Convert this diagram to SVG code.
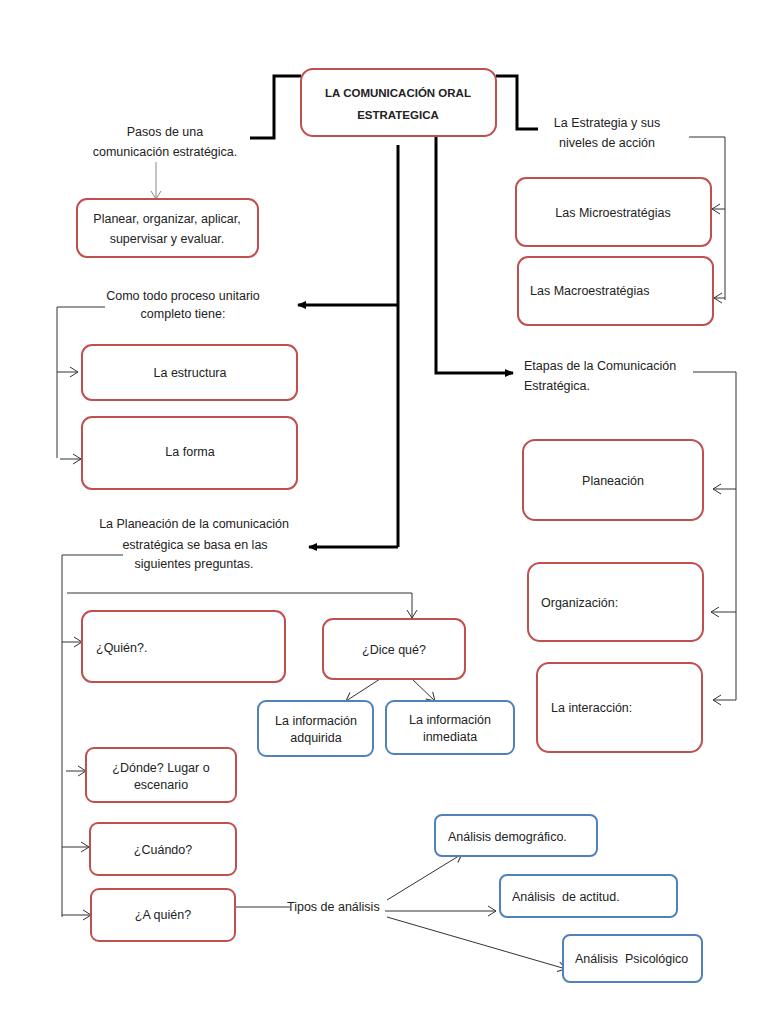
<svg xmlns="http://www.w3.org/2000/svg" width="768" height="1024" viewBox="0 0 768 1024">
<style>
text{font-family:"Liberation Sans",Arial,sans-serif;font-size:12.5px;fill:#222}
.c{text-anchor:middle}
.t{font-weight:bold;font-size:11.5px}
.r{fill:#fff;stroke:#c0504d;stroke-width:2}
.b{fill:#fff;stroke:#4f81bd;stroke-width:2}
.k{fill:none;stroke:#000;stroke-width:3}
.th{fill:none;stroke:#333;stroke-width:1}
.g{fill:none;stroke:#888;stroke-width:1}
</style>
<defs>
<marker id="open" markerWidth="12" markerHeight="12" refX="10" refY="6" orient="auto" markerUnits="userSpaceOnUse">
<path d="M2,1 L10,6 L2,11" fill="none" stroke="#333" stroke-width="1"/>
</marker>
<marker id="openg" markerWidth="12" markerHeight="12" refX="10" refY="6" orient="auto" markerUnits="userSpaceOnUse">
<path d="M2,1 L10,6 L2,11" fill="none" stroke="#888" stroke-width="1"/>
</marker>
<marker id="solid" markerWidth="12" markerHeight="12" refX="9" refY="6" orient="auto" markerUnits="userSpaceOnUse">
<path d="M1,2 L10,6 L1,10 Z" fill="#000"/>
</marker>
</defs>
<rect width="768" height="1024" fill="#fff"/>
<g id="connectors">
<polyline class="k" points="301,76 274,76 274,138 250,138"/>
<polyline class="k" points="496,76 517,76 517,129 538,129"/>
<line class="k" x1="398" y1="145" x2="398" y2="547"/>
<line class="k" x1="398" y1="305" x2="298" y2="305" marker-end="url(#solid)"/>
<line class="k" x1="398" y1="547" x2="309" y2="547" marker-end="url(#solid)"/>
<polyline class="k" points="436,137 436,373 513,373" marker-end="url(#solid)"/>
<line class="g" x1="156" y1="162" x2="156" y2="199" marker-end="url(#openg)"/>
<polyline class="th" points="689,137 725,137 725,300"/>
<line class="th" x1="725" y1="209" x2="712" y2="209" marker-end="url(#open)"/>
<line class="th" x1="725" y1="298" x2="714" y2="298" marker-end="url(#open)"/>
<polyline class="th" points="105,307 57,307 57,458"/>
<line class="th" x1="57" y1="372" x2="78" y2="372" marker-end="url(#open)"/>
<line class="th" x1="60" y1="459" x2="81" y2="459" marker-end="url(#open)"/>
<polyline class="th" points="123,555 62,555 62,917"/>
<line class="th" x1="62" y1="642" x2="82" y2="642" marker-end="url(#open)"/>
<line class="th" x1="66" y1="771" x2="86" y2="771" marker-end="url(#open)"/>
<line class="th" x1="62" y1="847" x2="89" y2="847" marker-end="url(#open)"/>
<line class="th" x1="62" y1="915" x2="91" y2="915" marker-end="url(#open)"/>
<polyline class="th" points="67,593 412,593 412,618" marker-end="url(#open)"/>
<line class="th" x1="380" y1="679" x2="346" y2="701" marker-end="url(#open)"/>
<line class="th" x1="412" y1="679" x2="435" y2="701" marker-end="url(#open)"/>
<polyline class="th" points="693,372 736,372 736,700"/>
<line class="th" x1="736" y1="489" x2="713" y2="489" marker-end="url(#open)"/>
<line class="th" x1="736" y1="612" x2="711" y2="612" marker-end="url(#open)"/>
<line class="th" x1="736" y1="700" x2="713" y2="700" marker-end="url(#open)"/>
<line class="th" x1="235" y1="907" x2="290" y2="907"/>
<line class="th" x1="387" y1="900" x2="462" y2="854" marker-end="url(#open)"/>
<line class="th" x1="385" y1="911" x2="496" y2="911" marker-end="url(#open)"/>
<line class="th" x1="387" y1="917" x2="566" y2="969" marker-end="url(#open)"/>
</g>
<g id="title"><rect class="r" x="301" y="69" width="195" height="67" rx="12"/>
<text class="c t" x="398" y="97">LA COMUNICACIÓN ORAL</text>
<text class="c t" x="398" y="119">ESTRATEGICA</text></g>
<g id="pasos"><text class="c" x="165" y="136">Pasos de una</text><text class="c" x="165" y="156">comunicación estratégica.</text></g>
<g id="planear"><rect class="r" x="77" y="199" width="181" height="58" rx="10"/>
<text class="c" x="167" y="223">Planear, organizar, aplicar,</text><text class="c" x="167" y="243">supervisar y evaluar.</text></g>
<g id="estrategia"><text class="c" x="607" y="127">La Estrategia y sus</text><text class="c" x="607" y="147">niveles de acción</text></g>
<g id="micro"><rect class="r" x="516" y="178" width="195" height="68" rx="10"/><text class="c" x="613" y="217">Las Microestratégias</text></g>
<g id="macro"><rect class="r" x="518" y="257" width="195" height="68" rx="10"/><text x="530" y="295">Las Macroestratégias</text></g>
<g id="como"><text class="c" x="183" y="300">Como todo proceso unitario</text><text class="c" x="183" y="318">completo tiene:</text></g>
<g id="estructura"><rect class="r" x="82" y="345" width="215" height="55" rx="10"/><text class="c" x="190" y="377">La estructura</text></g>
<g id="forma"><rect class="r" x="82" y="417" width="215" height="72" rx="10"/><text class="c" x="190" y="456">La forma</text></g>
<g id="planeacion-com"><text class="c" x="194" y="528">La Planeación de la comunicación</text><text class="c" x="195" y="549">estratégica se basa en las</text><text class="c" x="194" y="568">siguientes preguntas.</text></g>
<g id="quien"><rect class="r" x="82" y="611" width="203" height="71" rx="10"/><text x="96" y="652">¿Quién?.</text></g>
<g id="dice"><rect class="r" x="323" y="619" width="142" height="60" rx="10"/><text class="c" x="394" y="654">¿Dice qué?</text></g>
<g id="adquirida"><rect class="b" x="258" y="701" width="115" height="55" rx="8"/><text class="c" x="316" y="725">La información</text><text class="c" x="316" y="742">adquirida</text></g>
<g id="inmediata"><rect class="b" x="386" y="701" width="128" height="53" rx="8"/><text class="c" x="450" y="724">La información</text><text class="c" x="450" y="741">inmediata</text></g>
<g id="donde"><rect class="r" x="86" y="748" width="150" height="54" rx="8"/><text class="c" x="161" y="772">¿Dónde? Lugar o</text><text class="c" x="161" y="789">escenario</text></g>
<g id="cuando"><rect class="r" x="90" y="823" width="146" height="52" rx="8"/><text class="c" x="163" y="854">¿Cuándo?</text></g>
<g id="aquien"><rect class="r" x="91" y="889" width="144" height="52" rx="8"/><text class="c" x="163" y="919">¿A quién?</text></g>
<g id="tipos"><text x="287" y="911">Tipos de análisis</text></g>
<g id="demografico"><rect class="b" x="435" y="815" width="162" height="41" rx="7"/><text x="448" y="841">Análisis demográfico.</text></g>
<g id="actitud"><rect class="b" x="500" y="875" width="177" height="42" rx="7"/><text x="512" y="901" xml:space="preserve">Análisis  de actitud.</text></g>
<g id="psicologico"><rect class="b" x="563" y="935" width="139" height="47" rx="7"/><text x="575" y="963" xml:space="preserve">Análisis  Psicológico</text></g>
<g id="etapas"><text x="524" y="370">Etapas de la Comunicación</text><text x="524" y="390">Estratégica.</text></g>
<g id="planeacion"><rect class="r" x="523" y="440" width="180" height="80" rx="12"/><text class="c" x="613" y="485">Planeación</text></g>
<g id="organizacion"><rect class="r" x="528" y="563" width="175" height="78" rx="12"/><text x="541" y="607">Organización:</text></g>
<g id="interaccion"><rect class="r" x="537" y="663" width="165" height="89" rx="12"/><text x="551" y="712">La interacción:</text></g>
</svg>
